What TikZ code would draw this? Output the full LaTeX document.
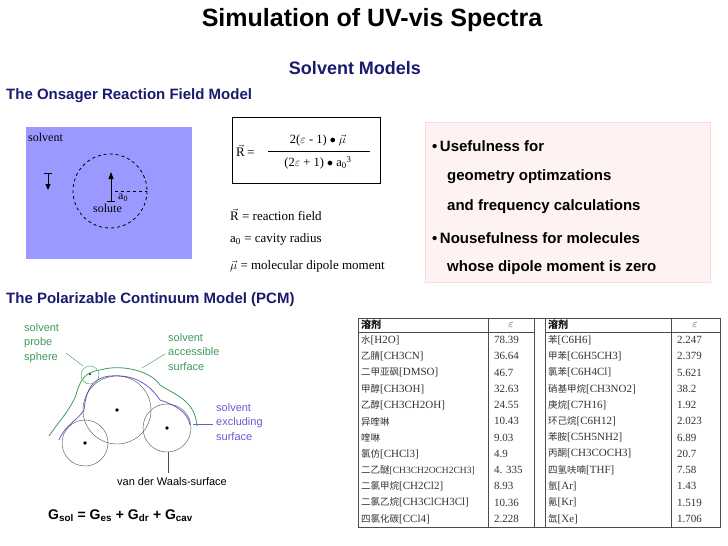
\documentclass[tikz,border=0pt]{standalone}
\usepackage{fontspec}
\setmainfont{Liberation Sans}
\newfontfamily\serif{Liberation Serif}
\newfontfamily\cjk{Noto Sans CJK SC}
\usetikzlibrary{arrows.meta}
\definecolor{navy}{HTML}{1A1A6E}
\definecolor{pcmgreen}{HTML}{3F9A5A}
\definecolor{pcmpurple}{HTML}{6A5ACD}
\definecolor{onsblue}{HTML}{9999FF}
\newcommand\vR{$\vec{\hbox{\serif R}}$}
\begin{document}
\begin{tikzpicture}[x=1pt,y=-1pt,
  hd/.style={font=\bfseries\fontsize{15}{17}\selectfont,text=navy,anchor=west,inner sep=0},
  bl/.style={font=\bfseries\fontsize{15}{17}\selectfont,anchor=west,inner sep=0},
  gl/.style={font=\fontsize{11}{14.5}\selectfont,text=pcmgreen,align=left,inner sep=0},
  tc/.style={font=\serif\fontsize{11}{12}\selectfont,anchor=west,inner sep=0,text=black!80},
  sf/.style={font=\serif\fontsize{13}{15}\selectfont,anchor=west,inner sep=0}]
\useasboundingbox (0,0) rectangle (728,546);
\node[font=\bfseries\fontsize{25}{28}\selectfont] (title) at (372,20) {Simulation of UV-vis Spectra};
\node[hd,anchor=center,font=\bfseries\fontsize{18}{20}\selectfont] (sm) at (355,68) {Solvent Models};
\node[hd] (h1) at (6,96) {The Onsager Reaction Field Model};
\node[hd] (h2) at (6,300) {The Polarizable Continuum Model (PCM)};
% Onsager figure
\fill[onsblue] (26,127) rectangle (192,259);
\draw[dashed,thick] (110,191) circle (37);
\draw[-{Triangle[length=7pt,width=5pt]},thick] (111,201) -- (111,172);
\draw (107,201) -- (115,201);
\draw[dashed] (115,191) -- (147,191);
\node[sf,font=\serif\fontsize{12}{14}\selectfont] (sv) at (28,137) {solvent};
\node[sf,font=\serif\fontsize{12}{14}\selectfont] (sol) at (93,208) {solute};
\node[sf,font=\serif\fontsize{12}{14}\selectfont] (a0) at (118,198) {a\textsubscript{0}};
\draw[-{Triangle[length=6pt,width=5pt]},thick] (48,173) -- (48,190);
\draw (44,173) -- (52,173);
% formula box
\draw (232,117) rectangle (380,183);
\node[sf] (fr) at (236,151) {\vR\,=};
\node[font=\serif\fontsize{12.5}{14}\selectfont,inner sep=1pt] (num) at (318,140) {2($\varepsilon$ - 1) $\bullet$ $\vec\mu$};
\node[font=\serif\fontsize{12.5}{14}\selectfont,inner sep=1pt] (den) at (318,163) {(2$\varepsilon$ + 1) $\bullet$ a\textsubscript{0}\textsuperscript{3}};
\draw (268,151) -- (370,151);
\node[sf] (l1) at (230,215) {\vR\ = reaction field};
\node[sf] (l2) at (230,239) {a\textsubscript{0} = cavity radius};
\node[sf] (l3) at (230,266) {$\vec\mu$ = molecular dipole moment};
% pink box
\draw[fill=red!5,draw=red!15] (425,122) rectangle (710,282);
\node[bl] (b1) at (432,146) {\textbullet\,Usefulness for};
\node[bl] (b2) at (447,177) {geometry optimzations};
\node[bl] (b3) at (447,207) {and frequency calculations};
\node[bl] (b4) at (432,238) {\textbullet\,Nousefulness for molecules};
\node[bl] (b5) at (447,268) {whose dipole moment is zero};
% PCM figure
\draw[pcmgreen,thick] (49,436) .. controls (60,420) and (70,410) .. (76,395) .. controls (80,380) and (85,372) .. (100,370) .. controls (120,364) and (150,370) .. (160,385) .. controls (175,395) and (195,400) .. (197,426);
\draw[pcmpurple,thick] (59,440) .. controls (65,425) and (78,420) .. (84,410) .. controls (86,390) and (92,378) .. (110,376) .. controls (135,374) and (150,385) .. (160,400) .. controls (175,405) and (188,412) .. (190,425);
\draw[black!70] (117,410) circle (34);
\draw[black!70] (85,443) circle (23);
\draw[black!70] (167,428) circle (24);
\draw[pcmgreen] (90,375) circle (9);
\fill (117,410) circle (1.8);
\fill (85,443) circle (1.8);
\fill (167,428) circle (1.8);
\fill (90,374) circle (1);
\node[gl,anchor=north west] (probe) at (24,323) {solvent\\probe\\sphere};
\draw[pcmgreen] (66,353) -- (83,366);
\node[gl,anchor=north west] (acc) at (168,333) {solvent\\accessible\\surface};
\draw[pcmgreen] (165,354) -- (142,368);
\node[gl,anchor=north west,text=pcmpurple] (exc) at (216,403) {solvent\\excluding\\surface};
\draw[pcmpurple] (193,424) -- (213,424);
\draw[black!70] (168,452) -- (168,473);
\node[font=\fontsize{11}{13}\selectfont,inner sep=0] (vdw) at (172,482) {van der Waals-surface};
\node[font=\bfseries\fontsize{14}{16}\selectfont,anchor=west,inner sep=0] (G) at (48,516) {G\textsubscript{sol} = G\textsubscript{es} + G\textsubscript{dr} + G\textsubscript{cav}};
% table
\begin{scope}[black!70]
\draw (358,318) rectangle (720,527);
\draw (488,318) -- (488,527);
\draw (534,318) -- (534,527);
\draw (545,318) -- (545,527);
\draw (671,318) -- (671,527);
\draw (358,332) -- (534,332);
\draw (545,332) -- (720,332);
\end{scope}
\node[tc,font=\cjk\bfseries\fontsize{10}{12}\selectfont,text=black] (th1) at (361,325) {溶剂};
\node[tc,anchor=center] (th2) at (511,325) {$\varepsilon$};
\node[tc,font=\cjk\bfseries\fontsize{10}{12}\selectfont,text=black] (th3) at (548,325) {溶剂};
\node[tc,anchor=center] (th4) at (695,325) {$\varepsilon$};
\foreach \a/\b/\c/\d/\e/\f [count=\i] in {
 水/[H2O]/78.39/苯/[C6H6]/2.247,
 乙腈/[CH3CN]/36.64/甲苯/[C6H5CH3]/2.379,
 二甲亚砜/[DMSO]/46.7/氯苯/[C6H4Cl]/5.621,
 甲醇/[CH3OH]/32.63/硝基甲烷/[CH3NO2]/38.2,
 乙醇/[CH3CH2OH]/24.55/庚烷/[C7H16]/1.92,
 异喹啉//10.43/环己烷/[C6H12]/2.023,
 喹啉//9.03/苯胺/[C5H5NH2]/6.89,
 氯仿/[CHCl3]/4.9/丙酮/[CH3COCH3]/20.7,
 二乙醚/{\fontsize{9.5}{10}\selectfont[CH3CH2OCH2CH3]}/4. 335/四氢呋喃/[THF]/7.58,
 二氯甲烷/[CH2Cl2]/8.93/氩/[Ar]/1.43,
 二氯乙烷/[CH3ClCH3Cl]/10.36/氪/[Kr]/1.519,
 四氯化碳/[CCl4]/2.228/氙/[Xe]/1.706}{
 \node[tc] (l\i) at (361,332+16.25*\i-8.1) {{\cjk\fontsize{9.5}{11}\selectfont\a}\b};
 \node[tc] (e\i) at (494,332+16.25*\i-8.1) {\c};
 \node[tc] (r\i) at (548,332+16.25*\i-8.1) {{\cjk\fontsize{9.5}{11}\selectfont\d}\e};
 \node[tc] (f\i) at (677,332+16.25*\i-8.1) {\f};
}
\end{tikzpicture}
\end{document}
